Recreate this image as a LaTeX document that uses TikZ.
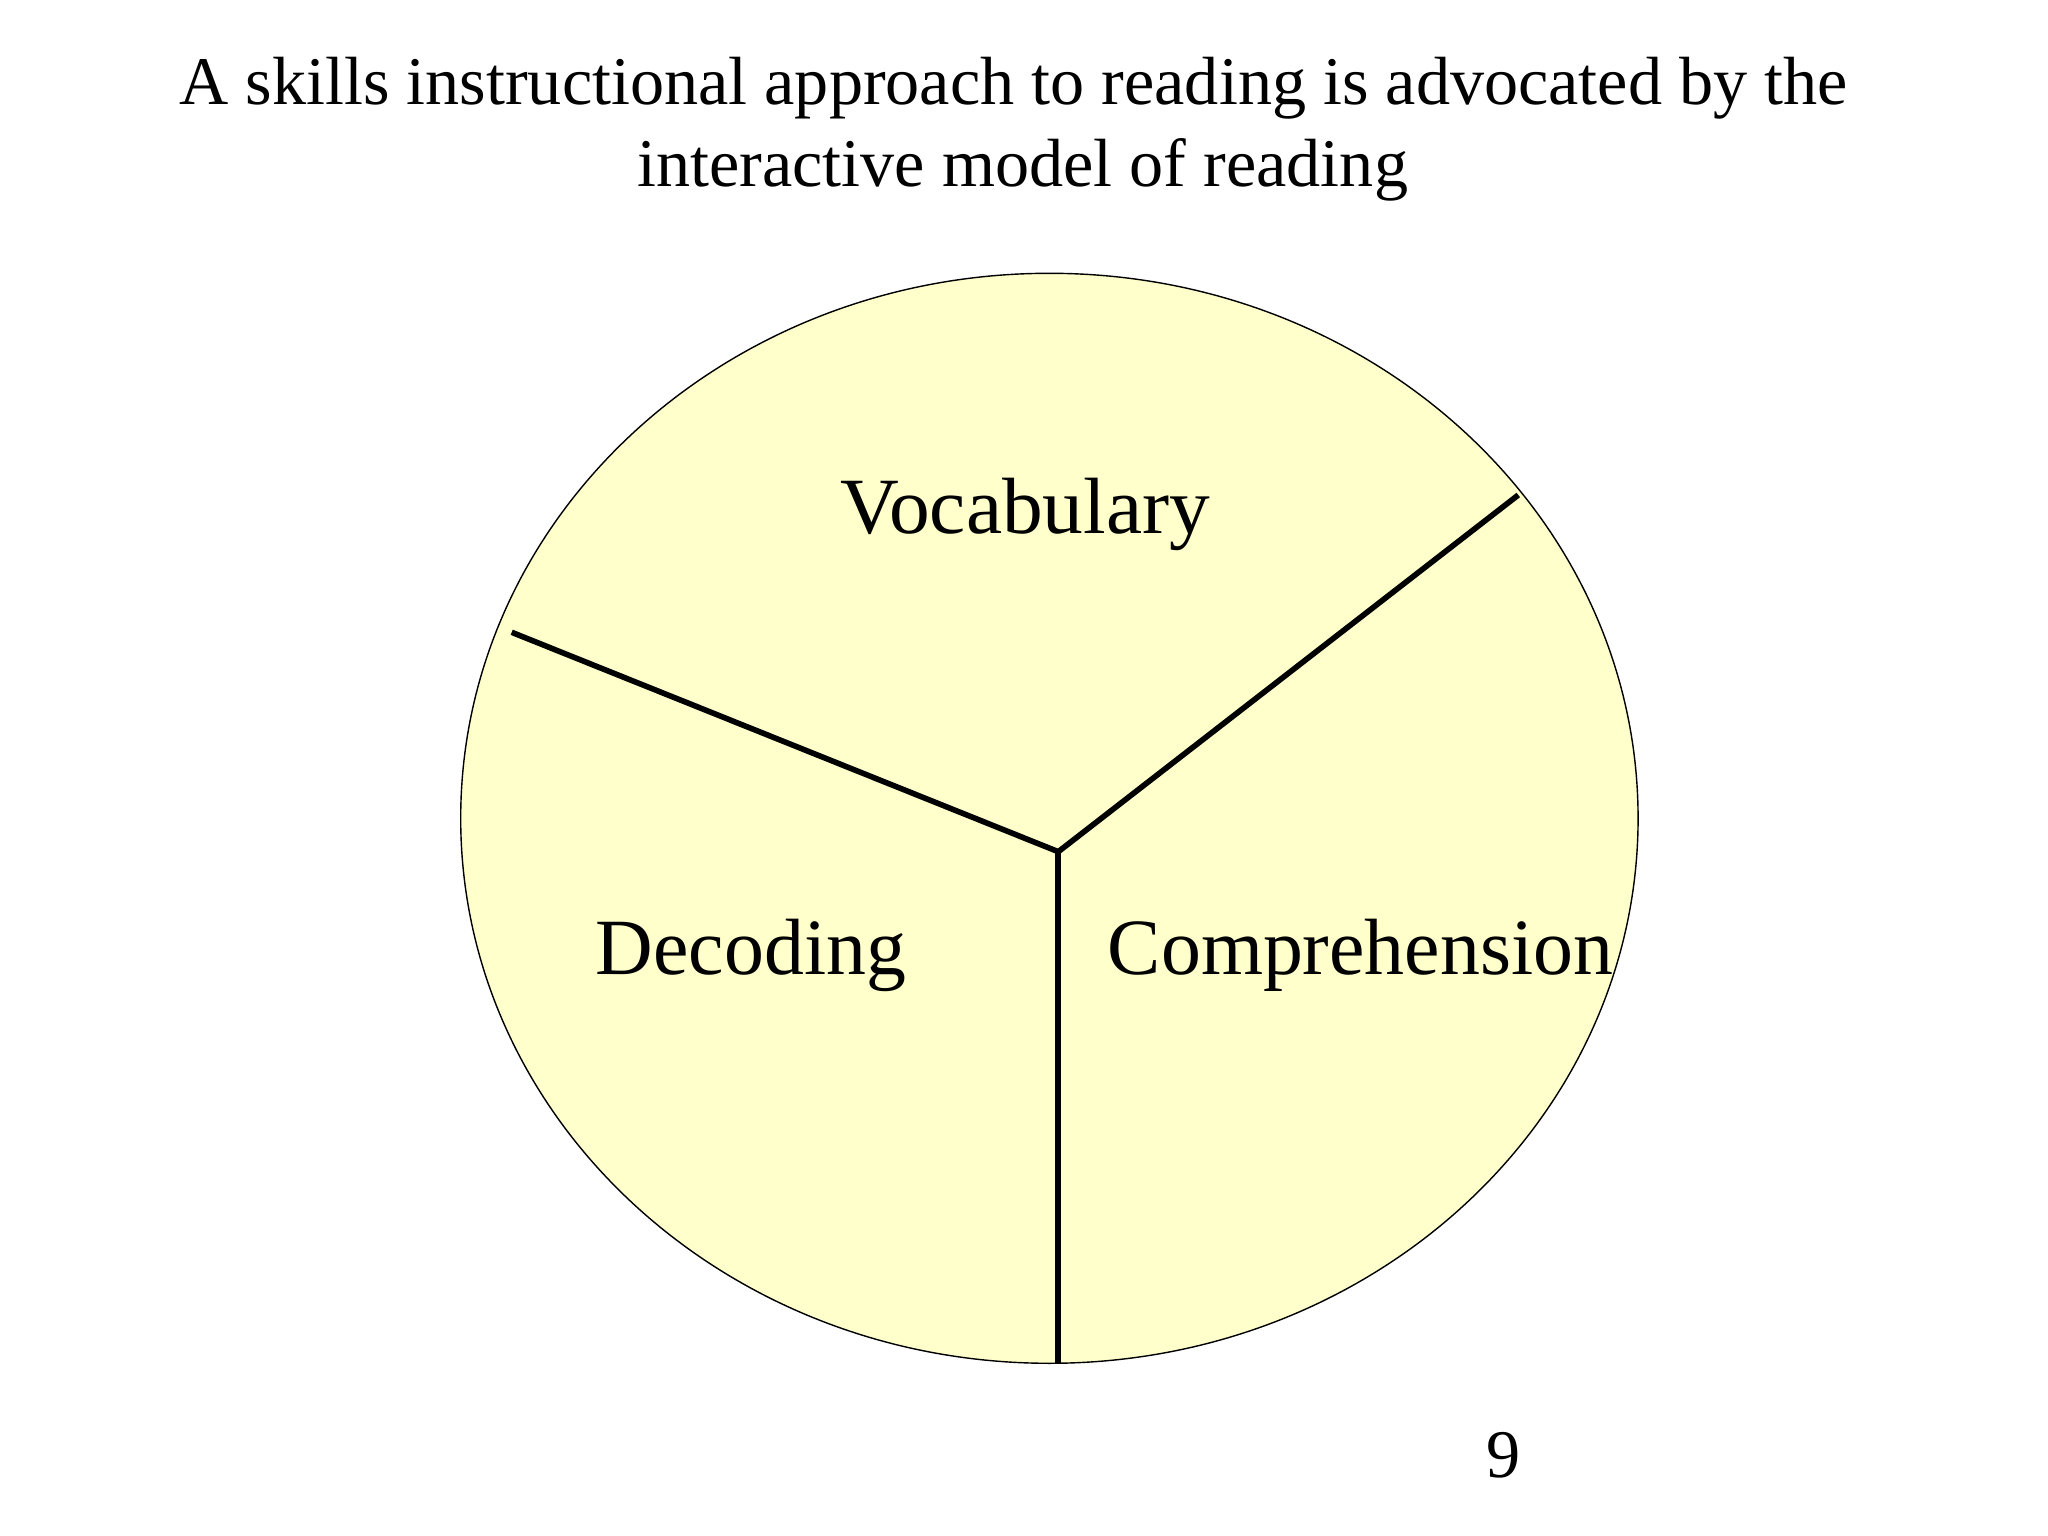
\documentclass[tikz,border=0pt]{standalone}
\usepackage{fontspec}
\setmainfont{Liberation Serif}
\definecolor{paleyellow}{RGB}{255,255,204}
\begin{document}
\begin{tikzpicture}
    \tikzset{part/.style = {font=\fontsize{22.7}{27}\selectfont, anchor=base, inner sep=0pt}}
    \tikzset{heading/.style = {font=\fontsize{19.4}{23}\selectfont, anchor=base, inner sep=0pt}}
    \tikzset{divider/.style = {line width=1.6pt}}
    \useasboundingbox (0,0) rectangle (20.48,-15.36);
    \draw[fill=paleyellow, line width=0.4pt] (10.494,-8.183) ellipse (5.887 and 5.45);
    \coordinate (hub) at (10.583,-8.517);
    \coordinate (left) at (5.117,-6.323);
    \coordinate (right) at (15.183,-4.95);
    \coordinate (bottom) at (10.583,-13.633);
    \draw[divider] (left) to (hub) to (right);
    \draw[divider] (hub) to (bottom);
    \node[part, xscale=1.02] (vocab) at (10.255,-5.33) {Vocabulary};
    \node[part] (decode) at (7.51,-9.75) {Decoding};
    \node[part] (compr) at (13.605,-9.75) {Comprehension};
    \node[heading] (title1) at (10.135,-1.05) {A skills instructional approach to reading is advocated by the};
    \node[heading] (title2) at (10.227,-1.87) {interactive model of reading};
    \node[heading] (page) at (15.04,-14.77) {9};
\end{tikzpicture}
\end{document}
